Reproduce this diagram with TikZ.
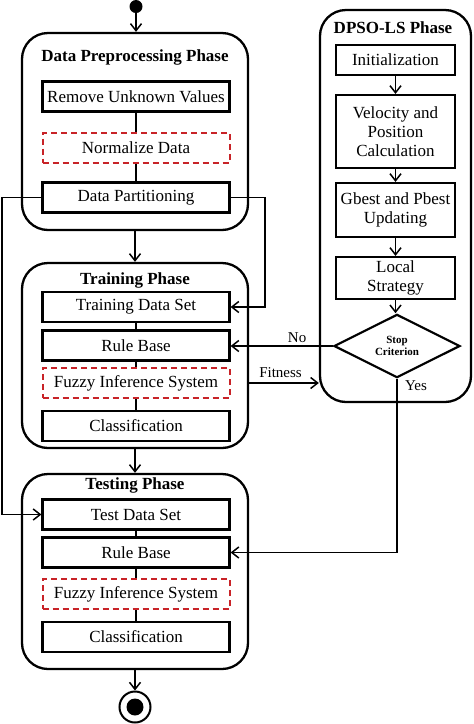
\documentclass[tikz,border=0pt]{standalone}
\usepackage{fontspec}
\setmainfont{Liberation Serif}
\usetikzlibrary{arrows.meta,shapes.geometric}
\definecolor{dred}{RGB}{200,35,40}
\begin{document}
\begin{tikzpicture}[x=1pt,y=-1pt,
  box/.style={draw, line width=2.2pt, minimum width=187pt, minimum height=30pt, inner sep=0pt, fill=white, font=\fontsize{17}{19}\selectfont},
  dbox/.style={box, draw=dred, line width=2pt, dash pattern=on 6pt off 4pt},
  pbox/.style={draw, line width=2.2pt, minimum width=119pt, inner sep=0pt, fill=white, align=center, font=\fontsize{17}{19}\selectfont},
  phase/.style={draw, line width=2.3pt, rounded corners=26pt, inner sep=0pt},
  ttl/.style={font=\bfseries\fontsize{17}{19}\selectfont},
  conn/.style={line width=1.5pt},
  arr/.style={conn, -{Straight Barb[length=7pt,width=11pt,line width=1.5pt]}},
  lbl/.style={font=\fontsize{15}{17}\selectfont}
]
\useasboundingbox (0,0) rectangle (474,724);
% containers
\node[phase, minimum width=226pt, minimum height=197pt] (pre) at (135,131.5) {};
\node[phase, minimum width=226pt, minimum height=185pt] (train) at (135,355.5) {};
\node[phase, minimum width=226pt, minimum height=195pt] (test) at (135,571.5) {};
\node[phase, minimum width=151pt, minimum height=392pt] (dpso) at (395.5,206) {};
% titles
\node[ttl] (tpre) at (135,57) {Data Preprocessing Phase};
\node[ttl] (ttrain) at (135,280) {Training Phase};
\node[ttl] (ttest) at (135,485) {Testing Phase};
\node[ttl] (tdpso) at (393,28) {DPSO-LS Phase};
% preprocessing boxes
\node[box] (ruv) at (136,96.5) {Remove Unknown Values};
\node[dbox] (norm) at (136,147.5) {Normalize Data};
\node[box] (part) at (136,197.5) {Data Partitioning};
% training boxes
\node[box] (tds) at (136,307) {Training Data Set};
\node[box] (rb1) at (136,345.5) {Rule Base};
\node[dbox] (fis1) at (136,383) {Fuzzy Inference System};
\node[box] (cl1) at (136,426) {Classification};
% testing boxes
\node[box] (ttds) at (136,514.5) {Test Data Set};
\node[box] (rb2) at (136,552.5) {Rule Base};
\node[dbox] (fis2) at (136,594) {Fuzzy Inference System};
\node[box] (cl2) at (136,637) {Classification};
% dpso boxes
\node[pbox, minimum height=30pt] (init) at (395.5,60) {Initialization};
\node[pbox, minimum height=73pt] (vel) at (395.5,131.5) {Velocity and\\Position\\Calculation};
\node[pbox, minimum height=54pt] (gb) at (395.5,210) {Gbest and Pbest\\Updating};
\node[pbox, minimum height=42pt] (ls) at (395.5,278) {Local\\Strategy};
\node[diamond, draw, line width=2.2pt, minimum width=126pt, minimum height=42pt, inner sep=0pt, align=center, font=\bfseries\fontsize{11}{12}\selectfont] (stop) at (397,346) {Stop\\Criterion};
% start / end
\node[circle, fill=black, minimum size=13pt, inner sep=0pt] (start) at (136,6.5) {};
\node[circle, draw, line width=2pt, minimum size=31pt, inner sep=0pt] (end) at (135,707) {};
\node[circle, fill=black, minimum size=17pt, inner sep=0pt] (endin) at (135,707) {};
% connectors
\draw[arr] (start) -- (start |- pre.north);
\draw[conn] (ruv) -- (norm);
\draw[conn] (norm) -- (part);
\draw[conn] (tds) -- (rb1);
\draw[conn] (rb1) -- (fis1);
\draw[conn] (fis1) -- (cl1);
\draw[conn] (ttds) -- (rb2);
\draw[conn] (rb2) -- (fis2);
\draw[conn] (fis2) -- (cl2);
\draw[arr] (pre.south) -- (train.north);
\draw[arr] (train.south) -- (test.north);
\draw[arr] (test.south) -- (end.north);
\coordinate (pl1) at (2,197.5);
\coordinate (pl2) at (2,514.5);
\draw[arr] (part.west) -- (pl1) -- (pl2) -- (ttds.west);
\coordinate (pr1) at (265,197.5);
\coordinate (pr2) at (265,307);
\draw[arr] (part.east) -- (pr1) -- (pr2) -- (tds.east);
\draw[arr] (init) -- (vel);
\draw[arr] (vel) -- (gb);
\draw[arr] (gb) -- (ls);
\draw[arr] (ls.south) -- (ls.south |- stop.north);
\draw[arr] (stop.west) -- (rb1.east |- stop.west) node[lbl, pos=0.35, above=-1pt] {No};
\draw[arr] (train.east |- fis1.east) -- (dpso.west |- fis1.east) node[lbl, pos=0.45, above=1pt] {Fitness};
\coordinate (yc) at (397,552.5);
\draw[arr] (stop.south) -- (yc) -- (rb2.east);
\node[lbl] (yes) at (416,386) {Yes};
\end{tikzpicture}
\end{document}
